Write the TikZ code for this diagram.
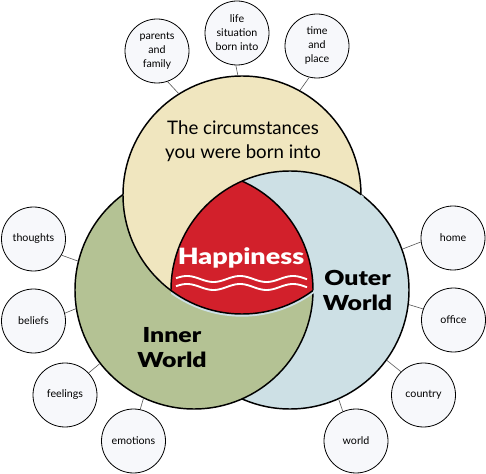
\documentclass[tikz,border=0pt]{standalone}
\usepackage{fontspec}
\setmainfont{Lato}
\newfontfamily\heavyfont{Lato Black}[FakeStretch=1.2]
\usetikzlibrary{positioning}
\definecolor{cream}{HTML}{F0E6BF}
\definecolor{innergreen}{HTML}{B4C294}
\definecolor{outerblue}{HTML}{CDE0E5}
\definecolor{happyred}{HTML}{D2202B}
\definecolor{bubblefill}{HTML}{F7F8FB}
\definecolor{linkgray}{HTML}{555555}
\tikzset{
  bigcircle/.style={circle,draw,line width=1.1pt,minimum size=178.5pt,inner sep=0pt},
  bubble/.style={circle,draw,fill=bubblefill,line width=0.6pt,minimum size=48pt,inner sep=0pt,align=center,font=\fontsize{8}{10.5}\selectfont},
  link/.style={draw=linkgray,line width=0.45pt},
  bigtext/.style={align=center,font=\fontsize{14}{18}\selectfont},
  heavytext/.style={align=center,font=\heavyfont\fontsize{15.5}{18.75}\selectfont},
  wave/.style={white,line width=1.4pt}
}
\newcommand{\vennrad}{89.25pt}

\begin{document}
\begin{tikzpicture}[x=0.75pt,y=-0.75pt]
  \useasboundingbox (0,0) rectangle (486,474);
  \node[bigcircle,fill=outerblue] (outer) at (290,290) {};
  \node[bigcircle,fill=innergreen] (inner) at (194,290) {};
  \node[bigcircle,fill=cream] (born) at (242,195) {};
  \begin{scope}
    \clip (outer.center) circle[radius=\vennrad];
    \fill[outerblue] (born.center) circle[radius=\vennrad+2pt];
  \end{scope}
  \begin{scope}
    \clip (born.center) circle[radius=\vennrad];
    \clip (inner.center) circle[radius=\vennrad];
    \fill[happyred] (outer.center) circle[radius=\vennrad];
  \end{scope}
  \begin{scope}
    \clip (born.center) circle[radius=\vennrad];
    \draw[line width=1.1pt] (outer.center) circle[radius=\vennrad];
    \clip (outer.center) circle[radius=\vennrad];
    \draw[line width=1.1pt] (inner.center) circle[radius=\vennrad];
  \end{scope}
  \begin{scope}
    \clip (inner.center) circle[radius=\vennrad];
    \clip (outer.center) circle[radius=\vennrad];
    \draw[line width=1.1pt] (born.center) circle[radius=\vennrad];
  \end{scope}

  \node[bigtext] (circtext) at (243,141) {The circumstances\\you were born into};
  \node[heavytext,text=white,anchor=base,font=\heavyfont\fontsize{16.8}{19}\selectfont] (happy) at (241,265) {Happiness};
  \draw[wave] plot[domain=176:307,samples=80] ({\x},{279-3*cos((\x-187)*6.79)});
  \draw[wave] plot[domain=176:307,samples=80] ({\x},{287-3*cos((\x-187)*6.79)});
  \node[heavytext] (outertext) at (357.5,290) {Outer\\World};
  \node[heavytext] (innertext) at (172,348) {Inner\\World};

  \node[bubble] (parents) at (157,51) {parents\\and\\family};
  \node[bubble] (life) at (237,33) {life\\situation\\born into};
  \node[bubble] (timeplace) at (317,46) {time\\and\\place};
  \node[bubble] (thoughts) at (33.5,239) {thoughts};
  \node[bubble] (beliefs) at (33.5,321) {beliefs};
  \node[bubble] (feelings) at (65,395) {feelings};
  \node[bubble] (emotions) at (133.5,441) {emotions};
  \node[bubble] (home) at (453,238) {home};
  \node[bubble] (office) at (453.5,320) {office};
  \node[bubble] (country) at (423.5,395) {country};
  \node[bubble] (world) at (356,441) {world};

  \draw[link] (parents.-71) -- (born.122);
  \draw[link] (life.-92) -- (born.92);
  \draw[link] (timeplace.-104) -- (born.61);
  \draw[link] (thoughts.-30) -- (inner.166);
  \draw[link] (beliefs.14) -- (inner.189);
  \draw[link] (feelings.43) -- (inner.218);
  \draw[link] (emotions.78) -- (inner.-115);
  \draw[link] (home.187) -- (outer.20);
  \draw[link] (office.160) -- (outer.-7);
  \draw[link] (country.134) -- (outer.-36);
  \draw[link] (world.114) -- (outer.-66);
\end{tikzpicture}
\end{document}
